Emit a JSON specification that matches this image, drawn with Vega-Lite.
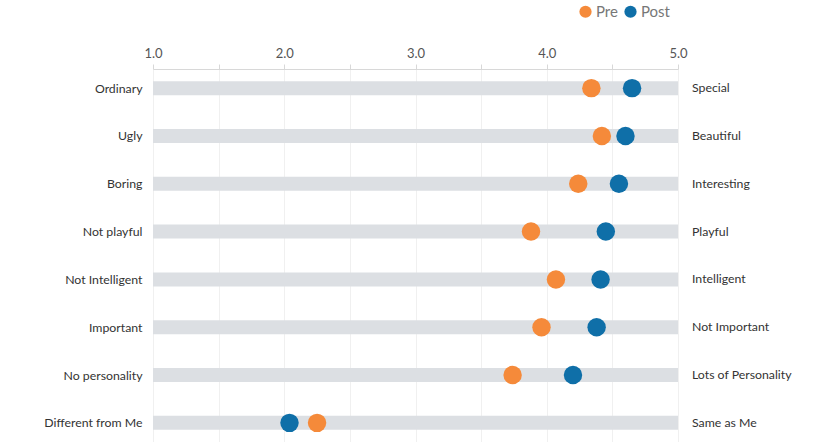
{
  "$schema": "https://vega.github.io/schema/vega-lite/v6.json",
  "autosize": "none",
  "padding": {"left": 153, "top": 69, "right": 144, "bottom": 0},
  "width": 525,
  "height": 373,
  "config": {
    "font": "Lato",
    "view": {"stroke": null}
  },
  "datasets": {
    "rows": [
      {"left": "Ordinary", "right": "Special", "order": 1, "Pre": 4.34, "Post": 4.65},
      {"left": "Ugly", "right": "Beautiful", "order": 2, "Pre": 4.42, "Post": 4.6},
      {"left": "Boring", "right": "Interesting", "order": 3, "Pre": 4.24, "Post": 4.55},
      {"left": "Not playful", "right": "Playful", "order": 4, "Pre": 3.88, "Post": 4.45},
      {"left": "Not Intelligent", "right": "Intelligent", "order": 5, "Pre": 4.07, "Post": 4.41},
      {"left": "Important", "right": "Not Important", "order": 6, "Pre": 3.96, "Post": 4.38},
      {"left": "No personality", "right": "Lots of Personality", "order": 7, "Pre": 3.74, "Post": 4.2},
      {"left": "Different from Me", "right": "Same as Me", "order": 8, "Pre": 2.25, "Post": 2.04}
    ],
    "points": [
      {"left": "Ordinary", "phase": "Pre", "score": 4.34},
      {"left": "Ordinary", "phase": "Post", "score": 4.65},
      {"left": "Ugly", "phase": "Pre", "score": 4.42},
      {"left": "Ugly", "phase": "Post", "score": 4.6},
      {"left": "Boring", "phase": "Pre", "score": 4.24},
      {"left": "Boring", "phase": "Post", "score": 4.55},
      {"left": "Not playful", "phase": "Pre", "score": 3.88},
      {"left": "Not playful", "phase": "Post", "score": 4.45},
      {"left": "Not Intelligent", "phase": "Pre", "score": 4.07},
      {"left": "Not Intelligent", "phase": "Post", "score": 4.41},
      {"left": "Important", "phase": "Pre", "score": 3.96},
      {"left": "Important", "phase": "Post", "score": 4.38},
      {"left": "No personality", "phase": "Pre", "score": 3.74},
      {"left": "No personality", "phase": "Post", "score": 4.2},
      {"left": "Different from Me", "phase": "Pre", "score": 2.25},
      {"left": "Different from Me", "phase": "Post", "score": 2.04}
    ]
  },
  "layer": [
    {
      "data": {"name": "rows"},
      "mark": {"type": "rule", "strokeWidth": 14, "color": "#dcdfe3", "strokeCap": "butt"},
      "encoding": {
        "y": {
          "field": "left", "type": "nominal",
          "sort": ["Ordinary", "Ugly", "Boring", "Not playful", "Not Intelligent", "Important", "No personality", "Different from Me"],
          "scale": {"type": "point", "padding": 0.4},
          "axis": {"title": null, "domain": false, "ticks": false, "labelPadding": 11, "labelFontSize": 12.3, "labelColor": "#333333", "labelFont": "Lato"}
        },
        "x": {
          "datum": 1, "type": "quantitative",
          "scale": {"domain": [1, 5], "nice": false},
          "axis": {
            "orient": "top", "title": null,
            "values": [1, 1.5, 2, 2.5, 3, 3.5, 4, 4.5, 5],
            "labelExpr": "datum.value % 1 == 0 ? format(datum.value, '.1f') : ''",
            "labelFlush": false,
            "labelFontSize": 13, "labelColor": "#555555", "labelPadding": 4,
            "domainColor": "#d8d8d8", "tickColor": "#d8d8d8", "tickSize": 5,
            "grid": true, "gridColor": "#f0f0f0"
          }
        },
        "x2": {"datum": 5}
      }
    },
    {
      "data": {"name": "rows"},
      "mark": {"type": "text", "align": "left", "dx": 14, "fontSize": 12.3, "color": "#333333", "font": "Lato"},
      "encoding": {
        "y": {"field": "left", "type": "nominal", "sort": ["Ordinary", "Ugly", "Boring", "Not playful", "Not Intelligent", "Important", "No personality", "Different from Me"]},
        "x": {"datum": 5, "type": "quantitative"},
        "text": {"field": "right"}
      }
    },
    {
      "data": {"name": "points"},
      "mark": {"type": "circle", "size": 340, "opacity": 1},
      "encoding": {
        "y": {"field": "left", "type": "nominal", "sort": ["Ordinary", "Ugly", "Boring", "Not playful", "Not Intelligent", "Important", "No personality", "Different from Me"]},
        "x": {"field": "score", "type": "quantitative"},
        "color": {
          "field": "phase", "type": "nominal",
          "scale": {"domain": ["Pre", "Post"], "range": ["#f58a3a", "#0f6fa8"]},
          "legend": {
            "title": null, "orient": "none", "direction": "horizontal",
            "legendX": 425, "legendY": -65,
            "symbolType": "circle", "symbolSize": 150, "symbolOpacity": 1,
            "labelFontSize": 15, "labelColor": "#777777", "labelOffset": 3,
            "columnPadding": 5
          }
        }
      }
    }
  ]
}
